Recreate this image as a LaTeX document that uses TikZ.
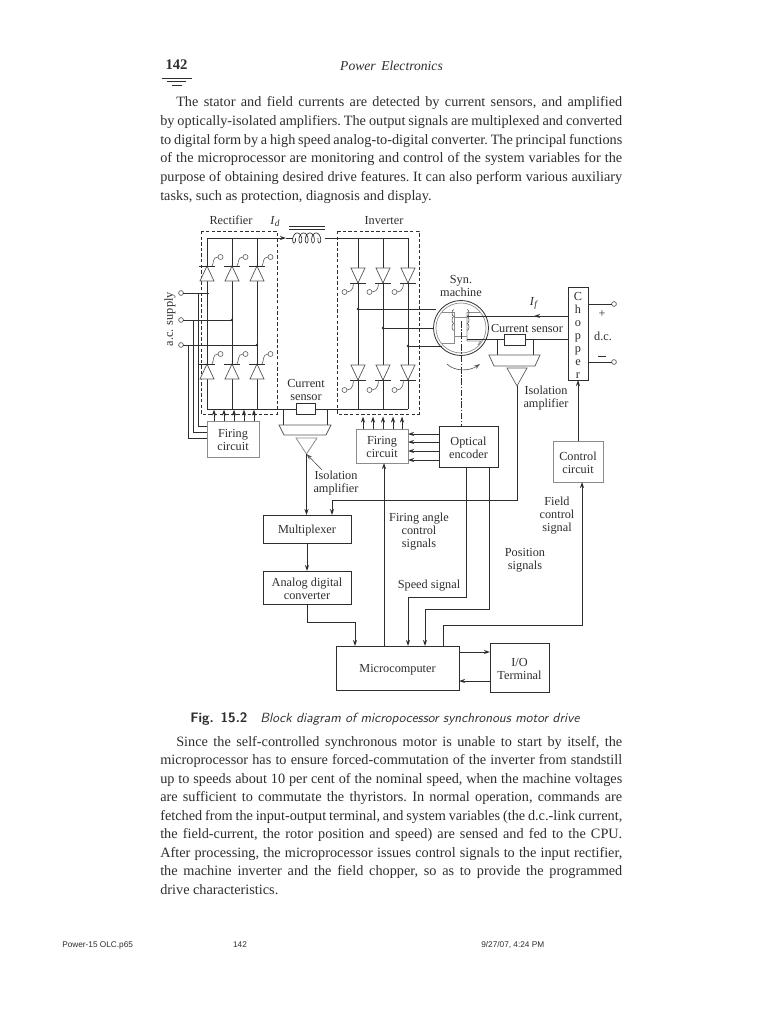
\documentclass[tikz,border=0pt]{standalone}
\usepackage{fontspec}
\setmainfont{Liberation Serif}
\setsansfont{Latin Modern Sans}
\newfontfamily\footfont{Liberation Sans}
\usetikzlibrary{arrows.meta}
\definecolor{ink}{HTML}{2E2E2E}
\definecolor{soft}{HTML}{8C8C8C}
\definecolor{mid}{HTML}{5A5A5A}
\tikzset{
  x=0.75pt,y=-0.75pt,
  wire/.style={draw=ink,line width=0.75pt},
  arr/.style={wire,-{Stealth[length=4.5pt,width=3pt]}},
  blockbox/.style={draw=ink,line width=0.7pt,fill=white,inner sep=0pt,outer sep=0pt,align=center,
    font=\fontsize{9.2}{9.75}\selectfont,text=ink},
  softbox/.style={blockbox,draw=soft},
  lab/.style={inner sep=0pt,align=center,yshift=-0.9pt,font=\fontsize{9.2}{9.75}\selectfont,text=ink},
  terminal/.style={circle,draw=mid,line width=0.5pt,fill=white,minimum size=3.6pt,inner sep=0pt,outer sep=0pt},
  dashbox/.style={draw=ink,line width=0.7pt,dash pattern=on 2.6pt off 1.6pt},
  dev/.style={draw=mid,line width=0.55pt,fill=white},
  bar/.style={draw=ink,line width=0.65pt},
  gate/.style={draw=mid,line width=0.45pt},
  pline/.style={anchor=base west,inner sep=0pt,yshift=-0.75pt,font=\fontsize{10.7}{12}\selectfont\frenchspacing,text=ink},
  dot/.style={circle,fill=ink,inner sep=0pt,minimum size=2pt},
}
\newcommand\mybox[7][blockbox]{%
  \pgfmathsetmacro\bw{(#5-#3)*0.75}\pgfmathsetmacro\bh{(#6-#4)*0.75}%
  \node[#1,minimum width=\bw pt,minimum height=\bh pt] (#2) at ({(#3+#5)/2},{(#4+#6)/2}) {\rule{0pt}{8.3pt}#7};}
\newcommand\jline[5]{\pgfmathsetmacro\bw{#4*0.75}%
  \node[pline] (#1) at (#2,#3) {\makebox[\bw pt][s]{#5}};}
\newcommand\rline[4]{\node[pline] (#1) at (#2,#3) {#4};}
\newcommand\thyup[3]{% x, bar y, gate circle y
  \draw[dev] (#1,#2) -- (#1-7,#2+15) -- (#1+7,#2+15) -- cycle;
  \draw[bar] (#1-8,#2) -- (#1+8,#2);
  \draw[gate] (#1+5,#2) .. controls (#1+7,#2-2) and (#1+5,#3) .. (#1+11,#3);
  \draw[gate,fill=white] (#1+13.5,#3) circle (2.5);}
\newcommand\thydown[3]{%
  \draw[dev] (#1,#2) -- (#1-7,#2-15) -- (#1+7,#2-15) -- cycle;
  \draw[bar] (#1-8,#2) -- (#1+8,#2);
  \draw[gate] (#1-5,#2) .. controls (#1-4,#2+2) and (#1-5,#3) .. (#1-11,#3);
  \draw[gate,fill=white] (#1-13.5,#3) circle (2.5);}
\begin{document}
\begin{tikzpicture}
\useasboundingbox (0,0) rectangle (768,1024);
\fill[white] (0,0) rectangle (768,1024);

% --- page header
\node[inner sep=0pt,font=\fontsize{11}{12}\selectfont\bfseries,text=ink] (pageno) at (176.5,65) {142};
\node[inner sep=0pt,font=\fontsize{10.2}{12}\selectfont\itshape,text=ink] (runhead) at (391.5,66) {Power\, Electronics};
\draw[ink,line width=0.7pt] (162,78) -- (192,78);
\draw[ink,line width=0.5pt] (167,81.5) -- (186,81.5);
\draw[ink,line width=0.5pt] (172,85) -- (182,85);

% --- first paragraph
\jline{a1}{176}{106}{446}{The stator and field currents are detected by current sensors, and amplified}
\jline{a2}{160}{124}{462}{by optically-isolated amplifiers. The output signals are multiplexed and converted}
\jline{a3}{160}{143}{462}{to digital form by a high speed analog-to-digital converter. The principal functions}
\jline{a4}{160}{161}{462}{of the microprocessor are monitoring and control of the system variables for the}
\jline{a5}{160}{180}{462}{purpose of obtaining desired drive features. It can also perform various auxiliary}
\rline{a6}{160}{199}{tasks, such as protection, diagnosis and display.}

% --- dashed enclosures
\draw[dashbox] (201,231) rectangle (277,414);
\draw[dashbox] (337,231) rectangle (419,414);

% --- block nodes
\mybox{sensA}{296}{404}{315}{414}{}
\mybox{sensB}{504}{334}{525}{345}{}
\mybox[softbox]{fireA}{207}{421}{259}{457}{Firing\\circuit}
\mybox[softbox]{fireB}{356}{429}{408}{463}{Firing\\circuit}
\mybox{encoder}{439}{426}{498}{467}{Optical\\encoder}
\mybox[softbox]{control}{553}{441}{603}{482}{Control\\circuit}
\mybox{chopper}{568}{287}{588}{380}{C\\h\\o\\p\\p\\e\\r}
\mybox{mux}{263}{515}{351}{543}{Multiplexer}
\mybox{adc}{263}{571}{351}{604}{Analog digital\\converter}
\mybox{micro}{336}{646}{459}{690}{Microcomputer}
\mybox{io}{490}{643}{549}{692}{I/O\\Terminal}

% --- terminals
\node[terminal] (acA) at (181,293) {};
\node[terminal] (acB) at (181,320) {};
\node[terminal] (acC) at (181,345) {};
\node[terminal] (dcP) at (614,304) {};
\node[terminal] (dcN) at (614,362) {};

% --- power circuit
\foreach \vx in {207,232,257,358,383,408} \draw[wire] (\vx,238) -- (\vx,409);
\draw[wire] (207,409) -- (sensA.west);
\draw[wire] (sensA.east) -- (408,409);
\draw[arr] (207,238) -- (286,238);
\draw[wire] (330,238) -- (408,238);
\draw[ink,line width=0.5pt] plot[domain=90:1710,samples=220,smooth] ({292.5+6.3*(\x-90)/360+2.8*sin(\x)},{238-5*cos(\x)});
\draw[wire] (286,238) -- (293,238) (325,238) -- (330,238);
\draw[ink,line width=0.75pt] (289,226.5) -- (325,226.5) (289,229.5) -- (325,229.5);

% --- thyristors
\foreach \vx in {207,232,257} {\thyup{\vx}{266}{257}\thyup{\vx}{364}{354}}
\foreach \vx in {358,383,408} {\thydown{\vx}{283}{292}\thydown{\vx}{380}{390}}

% --- a.c. supply
\draw[wire] (acA) -- (209,293);
\draw[wire] (acB) -- (232,320);
\draw[wire] (acC) -- (257,345);
\draw[wire] (198,293) -- (198,426) -- (fireA.west |- 198,426);
\draw[wire] (193,320) -- (193,432) -- (fireA.west |- 193,432);
\draw[wire] (188,345) -- (188,438) -- (fireA.west |- 188,438);
\node[dot] (jA) at (232,320) {};
\node[dot] (jB) at (257,345) {};
\foreach \ax in {214,224,234,244,254} \draw[arr] (fireA.north -| \ax,0) -- (\ax,409.5);
\foreach \ax in {363,373,383,393,402} \draw[arr] (fireB.north -| \ax,0) -- (\ax,416.5);

% --- sensor A and isolation amplifier
\draw[wire] (283,409) -- (283,425) (327,409) -- (327,425);
\draw[dev] (279,425) -- (331,425) -- (326,435) -- (284,435) -- cycle;
\draw[draw=soft,line width=0.6pt] (296,438) -- (317,438) -- (306.5,454) -- cycle;
\coordinate (ampA) at (306.5,454);
\coordinate (ampAleg) at (322,470);
\draw[arr,draw=mid,line width=0.5pt] (ampAleg) -- (ampA);
\draw[arr] (ampA) -- (mux.north -| ampA);

% --- inverter outputs and machine
\coordinate (mc) at (461,328);
\draw[ink,line width=0.6pt] (mc) circle (27.5);
\draw[soft,line width=0.5pt] (mc) circle (25);
\draw[wire] (358,309) -- (436,309);
\draw[wire] (383,328) -- (433,328);
\draw[wire] (408,346) -- (442,346);
\node[dot] at (358,309) {};
\node[dot] at (383,328) {};
\node[dot] at (408,346) {};
\draw[soft,line width=0.7pt] (442,312.5) -- (454,312.5) -- (454,343) -- (442,343);
\draw[soft,line width=0.7pt] (480,312.5) -- (467,312.5) -- (467,341) -- (481,341) -- (478,345);
\draw[soft,line width=0.5pt] (454,317) -- (467,317) (454,336) -- (467,336);
\foreach \cy in {320,327,334} {
  \draw[mid,line width=0.45pt] (454,\cy-3.5) arc (90:270:2 and 3.5);
  \draw[mid,line width=0.45pt] (467,\cy-3.5) arc (90:-90:2 and 3.5);}
\draw[wire] (chopper.west |- 0,339) -- (sensB.east |- 0,339);
\draw[wire] (sensB.west |- 0,339) -- (467,339);
\coordinate (ifEnd) at (467,316);
\draw[wire] (chopper.west |- ifEnd) -- (ifEnd);
\draw[arr] (chopper.west |- ifEnd) -- (534,316);
\draw[wire,dash pattern=on 5pt off 1.3pt on 1pt off 1.3pt,line width=0.6pt] (461,321) -- (encoder.north -| 461,0);
\draw[mid,line width=0.5pt,-{Stealth[length=4.5pt,width=3pt]}] (447,364) .. controls (455,372) and (470,371) .. (480,364);

% --- sensor B and isolation amplifier
\draw[wire] (497,339) -- (497,355) (533,339) -- (533,355);
\draw[dev] (489,355) -- (540,355) -- (535,366) -- (494,366) -- cycle;
\draw[draw=mid,line width=0.5pt] (507,368) -- (527,368) -- (517,386) -- cycle;
\coordinate (ampB) at (517,386);
\draw[wire] (ampB) -- (517,500) -- (332,500);
\draw[arr] (332,500) -- (mux.north -| 332,0);

% --- chopper side
\draw[wire] (chopper.east |- dcP) -- (dcP);
\draw[wire] (chopper.east |- dcN) -- (dcN);
\draw[arr] (control.north -| 578,0) -- (chopper.south -| 578,0);

% --- encoder to firing
\foreach \ey in {434,442,451,460} \draw[arr] (encoder.west |- 0,\ey) -- (fireB.east |- 0,\ey);

% --- signal paths
\draw[arr] (mux.south -| 307,0) -- (adc.north -| 307,0);
\draw[arr] (adc.south -| 307,0) -- (307,622) -- (355,622) -- (micro.north -| 355,0);
\draw[arr] (micro.north -| 384,0) -- (fireB.south -| 384,0);
\draw[arr] (encoder.south -| 466,0) -- (466,597) -- (408,597) -- (micro.north -| 408,0);
\draw[arr] (encoder.south -| 489,0) -- (489,609) -- (425,609) -- (micro.north -| 425,0);
\draw[arr] (micro.north -| 443,0) -- (443,625) -- (582,625) -- (control.south -| 582,0);
\draw[arr] (micro.east |- 0,652) -- (io.west |- 0,652);
\draw[arr] (io.west |- 0,681) -- (micro.east |- 0,681);

% --- labels
\node[lab] (tRect) at (231,219) {Rectifier};
\node[lab] (tId) at (275,220) {\textit{I}\raisebox{-1.5pt}{\fontsize{7}{8}\selectfont\textit{d}}};
\node[lab] (tInv) at (384,219) {Inverter};
\node[lab,rotate=90] (tAC) at (170,318) {a.c. supply};
\node[lab] (tCS1) at (306,388.5) {Current\\sensor};
\node[lab,fill=white,inner sep=0.5pt] (tCS2) at (527,327.5) {Current sensor};
\node[lab] (tSyn) at (461,284.5) {Syn.\\machine};
\node[lab] (tIf) at (534,302) {\textit{I}\raisebox{-1.5pt}{\fontsize{7}{8}\selectfont\textit{f}}};
\node[lab] (tPlus) at (602,313) {+};
\node[lab] (tDC) at (603,335) {d.c.};
\draw[ink,line width=0.6pt] (598,356) -- (606,356);
\node[lab] (tIso1) at (546,396.5) {Isolation\\amplifier};
\node[lab] (tIso2) at (336,481.5) {Isolation\\amplifier};
\node[lab] (tFA) at (419,530.5) {Firing angle\\control\\signals};
\node[lab] (tFC) at (557,514.5) {Field\\control\\signal};
\node[lab] (tPos) at (525,559.5) {Position\\signals};
\node[lab] (tSp) at (429,584) {Speed signal};

% --- caption
\node[anchor=base west,inner sep=0pt,font=\fontsize{10.3}{11}\selectfont\sffamily\bfseries,text=ink] (capA) at (190,722) {Fig. 15.2};
\node[anchor=base west,inner sep=0pt,font=\fontsize{10}{11}\selectfont\sffamily\itshape,text=ink] (capB) at (260,722) {Block diagram of micropocessor synchronous motor drive};

% --- second paragraph
\jline{b1}{176}{745}{446}{Since the self-controlled synchronous motor is unable to start by itself, the}
\jline{b2}{160}{763}{462}{microprocessor has to ensure forced-commutation of the inverter from standstill}
\jline{b3}{160}{782}{462}{up to speeds about 10 per cent of the nominal speed, when the machine voltages}
\jline{b4}{160}{800}{462}{are sufficient to commutate the thyristors. In normal operation, commands are}
\jline{b5}{160}{819}{462}{fetched from the input-output terminal, and system variables (the d.c.-link current,}
\jline{b6}{160}{837}{462}{the field-current, the rotor position and speed) are sensed and fed to the CPU.}
\jline{b7}{160}{856}{462}{After processing, the microprocessor issues control signals to the input rectifier,}
\jline{b8}{160}{874}{462}{the machine inverter and the field chopper, so as to provide the programmed}
\rline{b9}{160}{893}{drive characteristics.}

% --- footer
\node[anchor=base west,inner sep=0pt,font=\fontsize{6.2}{7}\footfont,text=ink] (f1) at (62,947.5) {Power-15 OLC.p65};
\node[anchor=base,inner sep=0pt,font=\fontsize{6.2}{7}\footfont,text=ink] (f2) at (240,947.5) {142};
\node[anchor=base west,inner sep=0pt,font=\fontsize{6.2}{7}\footfont,text=ink] (f3) at (481,947.5) {9/27/07, 4:24 PM};
\end{tikzpicture}
\end{document}
